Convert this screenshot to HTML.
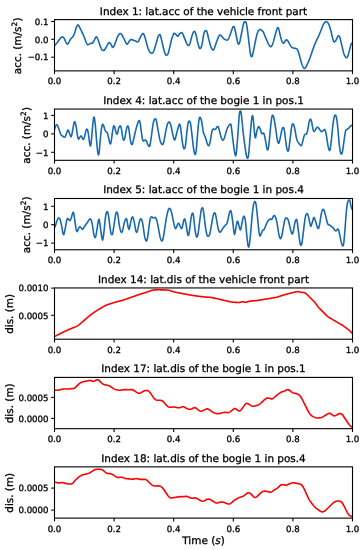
<!DOCTYPE html>
<html><head><meta charset="utf-8"><style>
html,body{margin:0;padding:0;background:#fff;}
body{width:364px;height:550px;overflow:hidden;}
svg{display:block;}
</style></head><body>
<svg width="364" height="550" viewBox="0 0 364 550">
<rect width="364" height="550" fill="#fff"/>
<g font-family="'DejaVu Sans', sans-serif" fill="#000" stroke="#000" stroke-width="0.3" text-rendering="geometricPrecision">
<clipPath id="c0"><rect x="54.5" y="19.6" width="298.0" height="51.27"/></clipPath>
<path d="M54.50,45.61 L55.00,45.13 L55.50,44.57 L56.00,43.99 L56.50,43.40 L57.00,42.80 L57.50,42.17 L58.00,41.49 L58.50,40.78 L59.00,40.06 L59.50,39.35 L60.00,38.69 L60.50,38.10 L61.00,37.61 L61.50,37.21 L62.00,36.93 L62.50,36.81 L63.00,36.98 L63.50,37.46 L64.00,38.16 L64.50,39.01 L65.00,40.08 L65.50,41.29 L66.00,42.40 L66.50,43.31 L67.00,43.96 L67.50,44.08 L68.00,43.63 L68.50,42.91 L69.00,42.07 L69.50,41.14 L70.00,40.16 L70.50,39.24 L71.00,38.50 L71.50,37.98 L72.00,37.56 L72.50,37.11 L73.00,36.49 L73.50,35.70 L74.00,34.72 L74.50,33.51 L75.00,31.86 L75.50,29.95 L76.00,28.27 L76.50,26.95 L77.00,25.93 L77.50,25.21 L78.00,24.88 L78.50,25.16 L79.00,26.06 L79.50,27.16 L80.00,28.23 L80.50,29.18 L81.00,30.11 L81.50,31.05 L82.00,32.04 L82.50,33.08 L83.00,34.18 L83.50,35.34 L84.00,36.57 L84.50,37.84 L85.00,39.15 L85.50,40.57 L86.00,42.04 L86.50,43.33 L87.00,44.22 L87.50,44.65 L88.00,44.68 L88.50,44.54 L89.00,44.35 L89.50,44.09 L90.00,43.79 L90.50,43.47 L91.00,43.17 L91.50,43.05 L92.00,43.19 L92.50,43.11 L93.00,42.52 L93.50,41.66 L94.00,40.72 L94.50,39.74 L95.00,38.70 L95.50,37.71 L96.00,36.97 L96.50,36.88 L97.00,37.44 L97.50,38.48 L98.00,39.70 L98.50,41.04 L99.00,42.46 L99.50,43.90 L100.00,45.31 L100.50,46.67 L101.00,47.94 L101.50,49.06 L102.00,49.88 L102.50,50.25 L103.00,50.36 L103.50,50.40 L104.00,50.34 L104.50,50.01 L105.00,49.32 L105.50,48.48 L106.00,47.60 L106.50,46.68 L107.00,45.74 L107.50,44.80 L108.00,43.89 L108.50,43.10 L109.00,42.59 L109.50,42.52 L110.00,42.94 L110.50,43.65 L111.00,44.46 L111.50,45.46 L112.00,46.47 L112.50,47.21 L113.00,47.38 L113.50,46.94 L114.00,46.00 L114.50,44.84 L115.00,43.59 L115.50,42.27 L116.00,40.87 L116.50,39.41 L117.00,38.02 L117.50,36.83 L118.00,35.86 L118.50,35.06 L119.00,34.36 L119.50,33.84 L120.00,33.54 L120.50,33.49 L121.00,33.71 L121.50,34.19 L122.00,34.95 L122.50,35.84 L123.00,36.77 L123.50,37.77 L124.00,38.83 L124.50,39.90 L125.00,40.98 L125.50,42.03 L126.00,43.02 L126.50,43.83 L127.00,44.22 L127.50,43.91 L128.00,43.24 L128.50,42.46 L129.00,41.60 L129.50,40.80 L130.00,40.18 L130.50,39.73 L131.00,39.53 L131.50,39.59 L132.00,39.72 L132.50,39.88 L133.00,40.05 L133.50,40.24 L134.00,40.44 L134.50,40.64 L135.00,40.84 L135.50,41.06 L136.00,41.31 L136.50,41.58 L137.00,41.83 L137.50,41.99 L138.00,41.77 L138.50,41.15 L139.00,40.26 L139.50,39.16 L140.00,37.97 L140.50,36.87 L141.00,35.93 L141.50,35.10 L142.00,34.39 L142.50,33.81 L143.00,33.51 L143.50,33.76 L144.00,34.61 L144.50,35.88 L145.00,37.44 L145.50,39.23 L146.00,41.14 L146.50,43.03 L147.00,44.80 L147.50,46.45 L148.00,47.97 L148.50,49.37 L149.00,50.62 L149.50,51.58 L150.00,52.27 L150.50,52.75 L151.00,53.09 L151.50,53.30 L152.00,53.32 L152.50,53.08 L153.00,52.51 L153.50,51.62 L154.00,50.47 L154.50,49.02 L155.00,47.30 L155.50,45.52 L156.00,43.73 L156.50,41.95 L157.00,40.16 L157.50,38.40 L158.00,36.82 L158.50,35.74 L159.00,35.05 L159.50,34.60 L160.00,34.60 L160.50,35.58 L161.00,37.47 L161.50,39.57 L162.00,41.72 L162.50,43.91 L163.00,46.11 L163.50,48.27 L164.00,50.25 L164.50,51.97 L165.00,53.43 L165.50,54.56 L166.00,55.13 L166.50,55.25 L167.00,55.08 L167.50,54.70 L168.00,53.90 L168.50,52.43 L169.00,50.45 L169.50,48.35 L170.00,46.19 L170.50,43.98 L171.00,41.77 L171.50,39.70 L172.00,38.03 L172.50,36.71 L173.00,35.46 L173.50,34.11 L174.00,33.19 L174.50,33.22 L175.00,33.68 L175.50,34.18 L176.00,34.68 L176.50,35.18 L177.00,35.68 L177.50,36.15 L178.00,36.27 L178.50,35.53 L179.00,34.55 L179.50,33.95 L180.00,33.47 L180.50,33.06 L181.00,32.75 L181.50,32.57 L182.00,32.68 L182.50,33.27 L183.00,34.40 L183.50,35.64 L184.00,36.89 L184.50,38.14 L185.00,39.39 L185.50,40.64 L186.00,41.89 L186.50,43.12 L187.00,44.16 L187.50,44.89 L188.00,45.33 L188.50,45.51 L189.00,45.31 L189.50,44.56 L190.00,43.30 L190.50,41.60 L191.00,39.54 L191.50,37.51 L192.00,35.79 L192.50,34.30 L193.00,33.02 L193.50,31.99 L194.00,31.43 L194.50,31.40 L195.00,31.84 L195.50,32.83 L196.00,34.48 L196.50,36.79 L197.00,39.36 L197.50,41.70 L198.00,43.77 L198.50,45.61 L199.00,47.19 L199.50,48.24 L200.00,48.60 L200.50,48.40 L201.00,47.67 L201.50,46.35 L202.00,44.49 L202.50,42.06 L203.00,38.62 L203.50,35.28 L204.00,33.14 L204.50,31.76 L205.00,30.92 L205.50,30.57 L206.00,30.62 L206.50,30.98 L207.00,31.98 L207.50,33.79 L208.00,35.96 L208.50,38.12 L209.00,40.12 L209.50,42.03 L210.00,43.88 L210.50,45.61 L211.00,47.08 L211.50,48.24 L212.00,49.13 L212.50,49.77 L213.00,50.10 L213.50,49.93 L214.00,49.13 L214.50,47.79 L215.00,46.35 L215.50,44.90 L216.00,43.49 L216.50,42.09 L217.00,40.70 L217.50,39.33 L218.00,38.00 L218.50,36.82 L219.00,35.89 L219.50,35.30 L220.00,35.12 L220.50,35.23 L221.00,35.56 L221.50,36.03 L222.00,36.57 L222.50,37.18 L223.00,37.83 L223.50,38.44 L224.00,38.93 L224.50,39.29 L225.00,39.55 L225.50,39.75 L226.00,39.92 L226.50,40.06 L227.00,40.11 L227.50,39.98 L228.00,39.59 L228.50,38.86 L229.00,37.81 L229.50,36.56 L230.00,35.22 L230.50,33.82 L231.00,32.31 L231.50,30.76 L232.00,29.25 L232.50,27.91 L233.00,26.94 L233.50,26.46 L234.00,26.60 L234.50,27.62 L235.00,29.58 L235.50,32.02 L236.00,34.52 L236.50,37.02 L237.00,39.52 L237.50,41.94 L238.00,43.60 L238.50,44.11 L239.00,43.80 L239.50,42.79 L240.00,40.92 L240.50,38.49 L241.00,35.99 L241.50,33.49 L242.00,30.99 L242.50,28.49 L243.00,26.00 L243.50,23.70 L244.00,22.40 L244.50,21.92 L245.00,21.69 L245.50,21.78 L246.00,22.54 L246.50,24.23 L247.00,26.86 L247.50,30.42 L248.00,34.52 L248.50,38.69 L249.00,42.85 L249.50,47.02 L250.00,51.09 L250.50,54.29 L251.00,56.04 L251.50,56.76 L252.00,56.58 L252.50,55.22 L253.00,53.00 L253.50,50.64 L254.00,48.22 L254.50,45.75 L255.00,43.24 L255.50,40.73 L256.00,38.31 L256.50,36.16 L257.00,34.33 L257.50,32.77 L258.00,31.49 L258.50,30.53 L259.00,29.88 L259.50,29.55 L260.00,29.47 L260.50,29.55 L261.00,29.77 L261.50,30.11 L262.00,30.51 L262.50,30.96 L263.00,31.56 L263.50,32.43 L264.00,33.57 L264.50,34.83 L265.00,36.12 L265.50,37.38 L266.00,38.57 L266.50,39.73 L267.00,40.88 L267.50,42.02 L268.00,43.11 L268.50,44.09 L269.00,44.94 L269.50,45.69 L270.00,46.32 L270.50,46.66 L271.00,46.63 L271.50,46.22 L272.00,45.44 L272.50,44.36 L273.00,43.01 L273.50,41.38 L274.00,39.52 L274.50,37.55 L275.00,35.57 L275.50,33.68 L276.00,31.95 L276.50,30.31 L277.00,28.78 L277.50,27.70 L278.00,27.54 L278.50,28.44 L279.00,30.07 L279.50,32.07 L280.00,34.28 L280.50,36.40 L281.00,38.25 L281.50,39.91 L282.00,41.33 L282.50,42.44 L283.00,43.09 L283.50,43.24 L284.00,42.93 L284.50,42.14 L285.00,41.17 L285.50,40.48 L286.00,40.04 L286.50,39.86 L287.00,40.06 L287.50,40.54 L288.00,41.19 L288.50,41.98 L289.00,42.89 L289.50,43.86 L290.00,44.80 L290.50,45.62 L291.00,46.39 L291.50,47.03 L292.00,47.48 L292.50,47.71 L293.00,47.85 L293.50,47.97 L294.00,48.08 L294.50,48.20 L295.00,48.33 L295.50,48.47 L296.00,48.62 L296.50,48.78 L297.00,49.01 L297.50,49.63 L298.00,50.75 L298.50,52.29 L299.00,54.06 L299.50,55.84 L300.00,57.63 L300.50,59.41 L301.00,61.20 L301.50,62.96 L302.00,64.49 L302.50,65.72 L303.00,66.77 L303.50,67.69 L304.00,68.31 L304.50,68.51 L305.00,68.27 L305.50,67.74 L306.00,66.96 L306.50,65.97 L307.00,64.92 L307.50,63.83 L308.00,62.70 L308.50,61.53 L309.00,60.33 L309.50,59.10 L310.00,57.83 L310.50,56.49 L311.00,55.04 L311.50,53.51 L312.00,51.98 L312.50,50.49 L313.00,49.08 L313.50,47.70 L314.00,46.36 L314.50,45.06 L315.00,43.83 L315.50,42.64 L316.00,41.51 L316.50,40.41 L317.00,39.36 L317.50,38.40 L318.00,37.47 L318.50,36.45 L319.00,35.26 L319.50,34.02 L320.00,32.77 L320.50,31.52 L321.00,30.27 L321.50,29.02 L322.00,27.77 L322.50,26.52 L323.00,25.28 L323.50,24.21 L324.00,23.39 L324.50,22.76 L325.00,22.26 L325.50,21.89 L326.00,21.74 L326.50,21.77 L327.00,21.95 L327.50,22.32 L328.00,22.93 L328.50,23.80 L329.00,24.92 L329.50,26.27 L330.00,27.83 L330.50,29.54 L331.00,31.37 L331.50,33.30 L332.00,35.45 L332.50,37.64 L333.00,39.56 L333.50,40.99 L334.00,41.80 L334.50,41.95 L335.00,41.60 L335.50,40.98 L336.00,40.16 L336.50,39.17 L337.00,38.06 L337.50,37.01 L338.00,36.20 L338.50,35.75 L339.00,35.78 L339.50,36.41 L340.00,37.75 L340.50,39.69 L341.00,41.82 L341.50,43.96 L342.00,46.11 L342.50,48.25 L343.00,50.38 L343.50,52.39 L344.00,53.94 L344.50,55.14 L345.00,56.17 L345.50,56.97 L346.00,57.47 L346.50,57.64 L347.00,57.46 L347.50,56.83 L348.00,55.66 L348.50,54.04 L349.00,52.25 L349.50,50.35 L350.00,48.28 L350.50,46.18 L351.00,44.46 L351.50,43.49 L352.00,43.12 L352.50,43.06" fill="none" stroke="#1769b0" stroke-width="1.6" stroke-linejoin="round" stroke-linecap="square" clip-path="url(#c0)"/>
<rect x="54.5" y="19.6" width="298.0" height="51.27" fill="none" stroke="#000" stroke-width="1.1" stroke-linejoin="miter"/>
<line x1="54.50" y1="70.87" x2="54.50" y2="74.17" stroke="#000" stroke-width="1.1"/>
<text x="54.50" y="84.27" font-size="8.625" text-anchor="middle">0.0</text>
<line x1="114.10" y1="70.87" x2="114.10" y2="74.17" stroke="#000" stroke-width="1.1"/>
<text x="114.10" y="84.27" font-size="8.625" text-anchor="middle">0.2</text>
<line x1="173.70" y1="70.87" x2="173.70" y2="74.17" stroke="#000" stroke-width="1.1"/>
<text x="173.70" y="84.27" font-size="8.625" text-anchor="middle">0.4</text>
<line x1="233.30" y1="70.87" x2="233.30" y2="74.17" stroke="#000" stroke-width="1.1"/>
<text x="233.30" y="84.27" font-size="8.625" text-anchor="middle">0.6</text>
<line x1="292.90" y1="70.87" x2="292.90" y2="74.17" stroke="#000" stroke-width="1.1"/>
<text x="292.90" y="84.27" font-size="8.625" text-anchor="middle">0.8</text>
<line x1="352.50" y1="70.87" x2="352.50" y2="74.17" stroke="#000" stroke-width="1.1"/>
<text x="352.50" y="84.27" font-size="8.625" text-anchor="middle">1.0</text>
<line x1="51.20" y1="21.5" x2="54.5" y2="21.5" stroke="#000" stroke-width="1.1"/>
<text x="48.55" y="24.78" font-size="8.625" text-anchor="end">0.1</text>
<line x1="51.20" y1="39.35" x2="54.5" y2="39.35" stroke="#000" stroke-width="1.1"/>
<text x="48.55" y="42.63" font-size="8.625" text-anchor="end">0.0</text>
<line x1="51.20" y1="57.2" x2="54.5" y2="57.2" stroke="#000" stroke-width="1.1"/>
<text x="48.55" y="60.48" font-size="8.625" text-anchor="end">−0.1</text>
<text x="203.50" y="14.80" font-size="10.45" text-anchor="middle">Index 1: lat.acc of the vehicle front part</text>
<text transform="translate(21.4,45.84) rotate(-90)" x="0" y="0" font-size="10.45" text-anchor="middle">acc. (m/s<tspan font-size="7.31" dx="0.10" dy="-4.00">2</tspan><tspan dx="0.28" dy="4.00">)</tspan></text>
<clipPath id="c1"><rect x="54.5" y="109.05000000000001" width="298.0" height="51.27"/></clipPath>
<path d="M54.50,129.39 L55.00,127.69 L55.50,126.22 L56.00,125.25 L56.50,124.79 L57.00,124.77 L57.50,125.29 L58.00,126.50 L58.50,127.91 L59.00,129.34 L59.50,130.77 L60.00,132.20 L60.50,133.60 L61.00,134.78 L61.50,135.34 L62.00,135.60 L62.50,135.96 L63.00,136.41 L63.50,136.85 L64.00,137.23 L64.50,137.34 L65.00,136.96 L65.50,136.15 L66.00,134.88 L66.50,133.35 L67.00,131.93 L67.50,130.62 L68.00,129.98 L68.50,130.61 L69.00,131.86 L69.50,133.24 L70.00,134.67 L70.50,136.06 L71.00,136.80 L71.50,135.96 L72.00,133.85 L72.50,131.03 L73.00,128.05 L73.50,125.37 L74.00,123.09 L74.50,121.66 L75.00,121.90 L75.50,123.55 L76.00,125.97 L76.50,128.97 L77.00,132.52 L77.50,135.76 L78.00,138.18 L78.50,139.24 L79.00,138.81 L79.50,137.94 L80.00,137.13 L80.50,136.42 L81.00,135.96 L81.50,136.26 L82.00,137.40 L82.50,138.46 L83.00,139.23 L83.50,139.40 L84.00,138.46 L84.50,136.75 L85.00,134.80 L85.50,132.69 L86.00,130.63 L86.50,129.24 L87.00,129.05 L87.50,129.87 L88.00,131.73 L88.50,134.57 L89.00,138.45 L89.50,142.39 L90.00,145.23 L90.50,145.98 L91.00,143.70 L91.50,139.13 L92.00,133.37 L92.50,127.36 L93.00,122.27 L93.50,118.58 L94.00,116.97 L94.50,118.29 L95.00,122.07 L95.50,127.07 L96.00,133.05 L96.50,139.61 L97.00,145.54 L97.50,150.18 L98.00,153.67 L98.50,154.99 L99.00,153.18 L99.50,148.79 L100.00,142.71 L100.50,137.00 L101.00,132.40 L101.50,128.68 L102.00,125.87 L102.50,124.38 L103.00,124.44 L103.50,125.33 L104.00,126.83 L104.50,128.59 L105.00,130.02 L105.50,131.00 L106.00,131.74 L106.50,132.17 L107.00,132.29 L107.50,133.39 L108.00,135.37 L108.50,137.45 L109.00,139.54 L109.50,141.62 L110.00,143.53 L110.50,143.98 L111.00,142.44 L111.50,139.45 L112.00,135.57 L112.50,131.91 L113.00,128.81 L113.50,126.53 L114.00,125.78 L114.50,126.51 L115.00,128.03 L115.50,130.09 L116.00,132.23 L116.50,133.68 L117.00,134.17 L117.50,133.51 L118.00,131.42 L118.50,128.88 L119.00,127.25 L119.50,126.29 L120.00,125.85 L120.50,126.06 L121.00,127.15 L121.50,129.44 L122.00,132.92 L122.50,136.18 L123.00,138.53 L123.50,139.99 L124.00,140.20 L124.50,139.16 L125.00,137.17 L125.50,134.38 L126.00,131.36 L126.50,128.92 L127.00,127.15 L127.50,126.11 L128.00,126.04 L128.50,127.30 L129.00,129.84 L129.50,133.58 L130.00,137.60 L130.50,140.71 L131.00,143.03 L131.50,144.37 L132.00,144.68 L132.50,143.78 L133.00,141.88 L133.50,139.80 L134.00,137.65 L134.50,135.46 L135.00,133.26 L135.50,131.10 L136.00,129.07 L136.50,127.21 L137.00,125.43 L137.50,123.75 L138.00,122.37 L138.50,121.26 L139.00,120.46 L139.50,120.56 L140.00,122.21 L140.50,125.45 L141.00,129.31 L141.50,133.01 L142.00,136.52 L142.50,139.35 L143.00,140.76 L143.50,140.97 L144.00,140.74 L144.50,140.37 L145.00,140.06 L145.50,140.04 L146.00,140.35 L146.50,141.14 L147.00,142.43 L147.50,143.82 L148.00,144.91 L148.50,145.74 L149.00,146.33 L149.50,146.34 L150.00,145.07 L150.50,142.34 L151.00,138.99 L151.50,135.39 L152.00,131.61 L152.50,127.89 L153.00,124.62 L153.50,122.11 L154.00,120.34 L154.50,119.34 L155.00,118.96 L155.50,118.86 L156.00,119.32 L156.50,121.24 L157.00,124.06 L157.50,127.00 L158.00,129.87 L158.50,132.71 L159.00,135.50 L159.50,138.12 L160.00,140.15 L160.50,141.66 L161.00,142.91 L161.50,143.88 L162.00,144.43 L162.50,144.52 L163.00,144.09 L163.50,142.96 L164.00,140.97 L164.50,138.28 L165.00,135.33 L165.50,132.53 L166.00,130.07 L166.50,127.78 L167.00,125.73 L167.50,124.05 L168.00,122.92 L168.50,122.30 L169.00,122.06 L169.50,122.20 L170.00,122.92 L170.50,124.29 L171.00,126.08 L171.50,128.23 L172.00,130.70 L172.50,133.23 L173.00,135.46 L173.50,137.32 L174.00,138.87 L174.50,139.88 L175.00,139.72 L175.50,138.11 L176.00,136.00 L176.50,133.95 L177.00,132.04 L177.50,130.17 L178.00,128.32 L178.50,126.56 L179.00,125.08 L179.50,124.10 L180.00,124.75 L180.50,127.20 L181.00,130.96 L181.50,135.24 L182.00,139.22 L182.50,142.78 L183.00,145.87 L183.50,147.99 L184.00,148.74 L184.50,148.61 L185.00,147.68 L185.50,145.32 L186.00,141.10 L186.50,135.91 L187.00,131.12 L187.50,126.93 L188.00,123.55 L188.50,121.59 L189.00,121.08 L189.50,121.29 L190.00,121.83 L190.50,123.48 L191.00,126.74 L191.50,130.75 L192.00,135.10 L192.50,139.71 L193.00,144.26 L193.50,148.12 L194.00,151.00 L194.50,153.26 L195.00,154.55 L195.50,154.27 L196.00,151.92 L196.50,147.44 L197.00,141.43 L197.50,135.05 L198.00,129.17 L198.50,123.87 L199.00,119.73 L199.50,117.60 L200.00,117.27 L200.50,117.84 L201.00,118.92 L201.50,120.68 L202.00,123.46 L202.50,126.98 L203.00,130.44 L203.50,133.03 L204.00,134.31 L204.50,135.21 L205.00,136.36 L205.50,137.63 L206.00,139.15 L206.50,141.01 L207.00,142.83 L207.50,144.22 L208.00,145.20 L208.50,145.82 L209.00,145.75 L209.50,144.54 L210.00,142.35 L210.50,139.76 L211.00,136.97 L211.50,133.94 L212.00,131.24 L212.50,129.59 L213.00,129.01 L213.50,129.03 L214.00,129.33 L214.50,129.52 L215.00,129.41 L215.50,129.13 L216.00,128.61 L216.50,127.75 L217.00,126.92 L217.50,126.43 L218.00,126.50 L218.50,127.43 L219.00,129.00 L219.50,130.88 L220.00,132.94 L220.50,135.05 L221.00,136.89 L221.50,138.25 L222.00,139.26 L222.50,139.94 L223.00,140.13 L223.50,139.68 L224.00,138.76 L224.50,137.41 L225.00,135.78 L225.50,134.12 L226.00,132.45 L226.50,130.78 L227.00,129.15 L227.50,127.78 L228.00,126.86 L228.50,126.13 L229.00,125.40 L229.50,124.79 L230.00,124.29 L230.50,123.92 L231.00,124.70 L231.50,128.07 L232.00,132.18 L232.50,136.35 L233.00,140.51 L233.50,144.66 L234.00,148.52 L234.50,151.50 L235.00,153.98 L235.50,155.81 L236.00,155.25 L236.50,151.38 L237.00,145.56 L237.50,139.08 L238.00,132.38 L238.50,125.37 L239.00,117.94 L239.50,112.88 L240.00,111.35 L240.50,111.01 L241.00,111.86 L241.50,115.78 L242.00,120.70 L242.50,125.75 L243.00,130.83 L243.50,135.38 L244.00,139.22 L244.50,142.84 L245.00,146.56 L245.50,150.30 L246.00,153.77 L246.50,155.93 L247.00,157.38 L247.50,158.23 L248.00,157.79 L248.50,155.31 L249.00,150.79 L249.50,144.73 L250.00,137.95 L250.50,131.46 L251.00,125.65 L251.50,120.50 L252.00,116.69 L252.50,115.60 L253.00,117.06 L253.50,121.21 L254.00,127.46 L254.50,132.95 L255.00,137.03 L255.50,137.85 L256.00,135.79 L256.50,133.09 L257.00,130.91 L257.50,128.98 L258.00,127.44 L258.50,126.57 L259.00,126.60 L259.50,127.50 L260.00,128.72 L260.50,130.09 L261.00,131.64 L261.50,133.12 L262.00,133.85 L262.50,133.52 L263.00,133.15 L263.50,133.14 L264.00,133.68 L264.50,135.32 L265.00,137.78 L265.50,140.54 L266.00,143.43 L266.50,146.37 L267.00,148.84 L267.50,150.02 L268.00,149.57 L268.50,147.35 L269.00,143.57 L269.50,138.66 L270.00,133.16 L270.50,127.85 L271.00,123.16 L271.50,119.18 L272.00,116.34 L272.50,115.18 L273.00,115.44 L273.50,116.54 L274.00,118.35 L274.50,121.03 L275.00,124.06 L275.50,127.27 L276.00,130.70 L276.50,134.38 L277.00,137.94 L277.50,140.79 L278.00,142.60 L278.50,143.40 L279.00,143.03 L279.50,141.32 L280.00,139.06 L280.50,136.68 L281.00,134.20 L281.50,131.69 L282.00,129.43 L282.50,128.12 L283.00,127.57 L283.50,127.48 L284.00,128.46 L284.50,131.16 L285.00,135.26 L285.50,139.53 L286.00,143.23 L286.50,146.57 L287.00,149.32 L287.50,150.80 L288.00,151.23 L288.50,150.75 L289.00,148.16 L289.50,144.15 L290.00,139.98 L290.50,135.82 L291.00,131.65 L291.50,127.65 L292.00,124.99 L292.50,123.92 L293.00,123.73 L293.50,124.22 L294.00,125.61 L294.50,127.64 L295.00,129.99 L295.50,132.74 L296.00,135.85 L296.50,138.35 L297.00,139.93 L297.50,141.04 L298.00,141.96 L298.50,142.81 L299.00,143.57 L299.50,144.20 L300.00,144.76 L300.50,145.31 L301.00,145.70 L301.50,145.48 L302.00,144.25 L302.50,142.36 L303.00,140.32 L303.50,138.15 L304.00,136.25 L304.50,135.04 L305.00,134.40 L305.50,134.11 L306.00,134.24 L306.50,134.02 L307.00,132.88 L307.50,130.99 L308.00,128.53 L308.50,125.51 L309.00,122.72 L309.50,120.71 L310.00,119.50 L310.50,119.14 L311.00,119.74 L311.50,121.31 L312.00,123.81 L312.50,126.60 L313.00,128.94 L313.50,130.82 L314.00,131.51 L314.50,131.09 L315.00,130.37 L315.50,129.56 L316.00,128.71 L316.50,127.92 L317.00,127.38 L317.50,127.22 L318.00,127.43 L318.50,127.89 L319.00,128.50 L319.50,129.23 L320.00,129.99 L320.50,130.69 L321.00,131.26 L321.50,131.59 L322.00,131.56 L322.50,131.23 L323.00,130.78 L323.50,130.17 L324.00,129.62 L324.50,129.44 L325.00,129.89 L325.50,131.16 L326.00,133.32 L326.50,136.09 L327.00,139.31 L327.50,142.72 L328.00,145.70 L328.50,147.96 L329.00,149.62 L329.50,150.55 L330.00,149.92 L330.50,147.20 L331.00,143.25 L331.50,138.69 L332.00,133.75 L332.50,128.69 L333.00,124.14 L333.50,120.51 L334.00,117.77 L334.50,115.96 L335.00,115.13 L335.50,115.07 L336.00,115.83 L336.50,117.71 L337.00,120.83 L337.50,124.99 L338.00,130.05 L338.50,135.99 L339.00,141.74 L339.50,146.42 L340.00,150.04 L340.50,152.57 L341.00,153.85 L341.50,153.96 L342.00,153.18 L342.50,151.48 L343.00,148.45 L343.50,144.72 L344.00,140.95 L344.50,137.34 L345.00,133.99 L345.50,131.44 L346.00,130.13 L346.50,129.62 L347.00,129.35 L347.50,129.12 L348.00,128.79 L348.50,128.40 L349.00,127.95 L349.50,127.35 L350.00,126.64 L350.50,126.08 L351.00,125.71 L351.50,125.49 L352.00,125.39 L352.50,125.38" fill="none" stroke="#1769b0" stroke-width="1.6" stroke-linejoin="round" stroke-linecap="square" clip-path="url(#c1)"/>
<rect x="54.5" y="109.05000000000001" width="298.0" height="51.27" fill="none" stroke="#000" stroke-width="1.1" stroke-linejoin="miter"/>
<line x1="54.50" y1="160.32000000000002" x2="54.50" y2="163.62" stroke="#000" stroke-width="1.1"/>
<text x="54.50" y="173.72" font-size="8.625" text-anchor="middle">0.0</text>
<line x1="114.10" y1="160.32000000000002" x2="114.10" y2="163.62" stroke="#000" stroke-width="1.1"/>
<text x="114.10" y="173.72" font-size="8.625" text-anchor="middle">0.2</text>
<line x1="173.70" y1="160.32000000000002" x2="173.70" y2="163.62" stroke="#000" stroke-width="1.1"/>
<text x="173.70" y="173.72" font-size="8.625" text-anchor="middle">0.4</text>
<line x1="233.30" y1="160.32000000000002" x2="233.30" y2="163.62" stroke="#000" stroke-width="1.1"/>
<text x="233.30" y="173.72" font-size="8.625" text-anchor="middle">0.6</text>
<line x1="292.90" y1="160.32000000000002" x2="292.90" y2="163.62" stroke="#000" stroke-width="1.1"/>
<text x="292.90" y="173.72" font-size="8.625" text-anchor="middle">0.8</text>
<line x1="352.50" y1="160.32000000000002" x2="352.50" y2="163.62" stroke="#000" stroke-width="1.1"/>
<text x="352.50" y="173.72" font-size="8.625" text-anchor="middle">1.0</text>
<line x1="51.20" y1="115.4" x2="54.5" y2="115.4" stroke="#000" stroke-width="1.1"/>
<text x="48.55" y="118.68" font-size="8.625" text-anchor="end">1</text>
<line x1="51.20" y1="133.9" x2="54.5" y2="133.9" stroke="#000" stroke-width="1.1"/>
<text x="48.55" y="137.18" font-size="8.625" text-anchor="end">0</text>
<line x1="51.20" y1="152.3" x2="54.5" y2="152.3" stroke="#000" stroke-width="1.1"/>
<text x="48.55" y="155.58" font-size="8.625" text-anchor="end">−1</text>
<text x="203.50" y="103.80" font-size="10.45" text-anchor="middle">Index 4: lat.acc of the bogie 1 in pos.1</text>
<text transform="translate(30.0,135.28) rotate(-90)" x="0" y="0" font-size="10.45" text-anchor="middle">acc. (m/s<tspan font-size="7.31" dx="0.10" dy="-4.00">2</tspan><tspan dx="0.28" dy="4.00">)</tspan></text>
<clipPath id="c2"><rect x="54.5" y="198.5" width="298.0" height="51.27"/></clipPath>
<path d="M54.50,227.51 L55.00,226.77 L55.50,225.44 L56.00,223.74 L56.50,222.10 L57.00,220.72 L57.50,219.51 L58.00,218.54 L58.50,218.02 L59.00,217.93 L59.50,218.31 L60.00,219.28 L60.50,220.82 L61.00,222.83 L61.50,225.16 L62.00,227.95 L62.50,230.97 L63.00,233.38 L63.50,234.57 L64.00,234.09 L64.50,232.20 L65.00,229.76 L65.50,227.02 L66.00,224.02 L66.50,221.25 L67.00,219.30 L67.50,218.42 L68.00,218.56 L68.50,219.24 L69.00,219.92 L69.50,220.41 L70.00,220.57 L70.50,219.87 L71.00,218.52 L71.50,216.95 L72.00,215.31 L72.50,213.63 L73.00,212.31 L73.50,212.48 L74.00,214.90 L74.50,218.33 L75.00,221.81 L75.50,225.21 L76.00,228.44 L76.50,230.88 L77.00,231.67 L77.50,231.16 L78.00,229.93 L78.50,228.64 L79.00,227.63 L79.50,226.85 L80.00,226.79 L80.50,227.21 L81.00,227.75 L81.50,228.35 L82.00,228.97 L82.50,229.32 L83.00,228.96 L83.50,228.16 L84.00,227.31 L84.50,226.45 L85.00,225.70 L85.50,225.02 L86.00,224.35 L86.50,223.69 L87.00,223.02 L87.50,222.34 L88.00,221.53 L88.50,220.67 L89.00,219.92 L89.50,219.33 L90.00,218.91 L90.50,218.98 L91.00,219.68 L91.50,221.02 L92.00,223.08 L92.50,225.71 L93.00,229.00 L93.50,232.40 L94.00,235.11 L94.50,236.89 L95.00,237.64 L95.50,237.22 L96.00,235.46 L96.50,232.48 L97.00,229.12 L97.50,225.82 L98.00,222.72 L98.50,220.05 L99.00,219.22 L99.50,221.05 L100.00,224.55 L100.50,228.37 L101.00,231.97 L101.50,235.36 L102.00,238.45 L102.50,240.14 L103.00,238.88 L103.50,235.60 L104.00,231.38 L104.50,226.55 L105.00,221.40 L105.50,217.02 L106.00,214.10 L106.50,212.39 L107.00,211.57 L107.50,211.77 L108.00,213.32 L108.50,215.91 L109.00,219.15 L109.50,223.05 L110.00,227.38 L110.50,231.01 L111.00,233.27 L111.50,234.38 L112.00,234.72 L112.50,234.05 L113.00,231.65 L113.50,228.40 L114.00,225.06 L114.50,221.73 L115.00,218.40 L115.50,215.24 L116.00,213.18 L116.50,212.25 L117.00,212.11 L117.50,213.12 L118.00,215.54 L118.50,219.24 L119.00,223.07 L119.50,226.12 L120.00,228.66 L120.50,230.69 L121.00,232.01 L121.50,232.46 L122.00,231.99 L122.50,230.78 L123.00,228.89 L123.50,226.38 L124.00,223.86 L124.50,221.96 L125.00,220.54 L125.50,219.41 L126.00,218.68 L126.50,218.82 L127.00,220.43 L127.50,223.49 L128.00,226.34 L128.50,228.52 L129.00,229.51 L129.50,228.22 L130.00,225.72 L130.50,223.17 L131.00,220.93 L131.50,218.89 L132.00,217.34 L132.50,216.90 L133.00,217.52 L133.50,218.91 L134.00,220.88 L134.50,223.38 L135.00,226.37 L135.50,229.20 L136.00,231.35 L136.50,232.41 L137.00,231.96 L137.50,230.46 L138.00,228.38 L138.50,225.92 L139.00,223.37 L139.50,221.27 L140.00,219.84 L140.50,219.03 L141.00,218.86 L141.50,219.43 L142.00,220.65 L142.50,222.52 L143.00,225.10 L143.50,228.61 L144.00,232.53 L144.50,235.66 L145.00,237.93 L145.50,239.63 L146.00,240.80 L146.50,241.09 L147.00,240.16 L147.50,237.97 L148.00,234.82 L148.50,230.83 L149.00,226.53 L149.50,222.88 L150.00,220.01 L150.50,218.11 L151.00,217.17 L151.50,216.84 L152.00,217.01 L152.50,217.47 L153.00,217.82 L153.50,217.82 L154.00,217.65 L154.50,217.50 L155.00,217.53 L155.50,217.80 L156.00,218.38 L156.50,219.45 L157.00,221.13 L157.50,223.31 L158.00,225.78 L158.50,228.42 L159.00,231.32 L159.50,234.26 L160.00,236.76 L160.50,238.51 L161.00,239.79 L161.50,240.66 L162.00,240.91 L162.50,240.43 L163.00,239.09 L163.50,236.58 L164.00,233.33 L164.50,229.99 L165.00,226.66 L165.50,223.33 L166.00,220.04 L166.50,217.19 L167.00,214.85 L167.50,212.65 L168.00,210.70 L168.50,209.22 L169.00,208.45 L169.50,208.37 L170.00,208.70 L170.50,209.34 L171.00,210.59 L171.50,212.42 L172.00,214.57 L172.50,216.94 L173.00,219.45 L173.50,221.93 L174.00,224.22 L174.50,226.24 L175.00,227.86 L175.50,228.58 L176.00,228.28 L176.50,227.19 L177.00,225.87 L177.50,224.72 L178.00,223.70 L178.50,223.21 L179.00,223.59 L179.50,224.57 L180.00,225.70 L180.50,227.01 L181.00,228.16 L181.50,228.56 L182.00,227.93 L182.50,226.37 L183.00,223.78 L183.50,221.28 L184.00,219.63 L184.50,218.89 L185.00,219.51 L185.50,221.34 L186.00,223.93 L186.50,227.09 L187.00,230.53 L187.50,233.47 L188.00,235.38 L188.50,235.53 L189.00,233.65 L189.50,230.52 L190.00,226.75 L190.50,222.46 L191.00,218.45 L191.50,215.60 L192.00,213.96 L192.50,213.19 L193.00,213.56 L193.50,215.63 L194.00,219.88 L194.50,225.23 L195.00,229.52 L195.50,232.79 L196.00,235.24 L196.50,236.74 L197.00,237.06 L197.50,236.06 L198.00,234.01 L198.50,230.91 L199.00,226.92 L199.50,222.72 L200.00,218.63 L200.50,214.73 L201.00,211.25 L201.50,208.94 L202.00,208.10 L202.50,207.82 L203.00,208.54 L203.50,211.38 L204.00,215.13 L204.50,219.23 L205.00,223.45 L205.50,227.34 L206.00,230.56 L206.50,233.07 L207.00,234.83 L207.50,235.85 L208.00,236.29 L208.50,236.29 L209.00,235.76 L209.50,234.71 L210.00,233.07 L210.50,230.56 L211.00,227.68 L211.50,224.76 L212.00,221.84 L212.50,218.93 L213.00,216.20 L213.50,214.45 L214.00,213.48 L214.50,212.83 L215.00,212.92 L215.50,214.37 L216.00,216.68 L216.50,219.34 L217.00,222.21 L217.50,225.17 L218.00,227.86 L218.50,229.86 L219.00,231.17 L219.50,231.94 L220.00,232.22 L220.50,231.91 L221.00,231.31 L221.50,230.60 L222.00,229.78 L222.50,228.93 L223.00,228.16 L223.50,227.47 L224.00,226.82 L224.50,226.21 L225.00,225.63 L225.50,225.09 L226.00,224.69 L226.50,224.25 L227.00,223.29 L227.50,221.57 L228.00,219.45 L228.50,216.95 L229.00,214.43 L229.50,212.50 L230.00,211.25 L230.50,210.57 L231.00,210.97 L231.50,213.18 L232.00,216.41 L232.50,220.12 L233.00,224.21 L233.50,228.45 L234.00,232.27 L234.50,234.53 L235.00,233.28 L235.50,230.34 L236.00,227.36 L236.50,224.54 L237.00,222.14 L237.50,221.18 L238.00,222.08 L238.50,223.75 L239.00,225.89 L239.50,227.96 L240.00,229.40 L240.50,229.83 L241.00,228.50 L241.50,225.64 L242.00,222.60 L242.50,220.20 L243.00,218.12 L243.50,216.57 L244.00,216.19 L244.50,216.72 L245.00,218.37 L245.50,221.81 L246.00,226.98 L246.50,232.58 L247.00,237.54 L247.50,241.97 L248.00,245.61 L248.50,247.12 L249.00,246.33 L249.50,243.65 L250.00,239.24 L250.50,234.24 L251.00,228.81 L251.50,222.95 L252.00,217.14 L252.50,212.03 L253.00,207.90 L253.50,204.75 L254.00,202.78 L254.50,201.79 L255.00,201.45 L255.50,202.04 L256.00,204.14 L256.50,207.74 L257.00,212.43 L257.50,217.44 L258.00,222.42 L258.50,227.23 L259.00,231.67 L259.50,235.01 L260.00,236.07 L260.50,235.50 L261.00,234.29 L261.50,233.02 L262.00,231.91 L262.50,230.88 L263.00,230.03 L263.50,229.79 L264.00,229.63 L264.50,228.66 L265.00,227.43 L265.50,226.18 L266.00,224.93 L266.50,223.69 L267.00,222.54 L267.50,221.69 L268.00,221.00 L268.50,220.35 L269.00,219.80 L269.50,219.36 L270.00,219.09 L270.50,218.97 L271.00,219.21 L271.50,219.52 L272.00,219.11 L272.50,217.99 L273.00,216.87 L273.50,216.08 L274.00,215.56 L274.50,215.47 L275.00,216.06 L275.50,217.20 L276.00,218.71 L276.50,220.59 L277.00,222.89 L277.50,225.71 L278.00,229.13 L278.50,232.38 L279.00,234.92 L279.50,236.86 L280.00,238.22 L280.50,238.76 L281.00,238.27 L281.50,236.88 L282.00,234.83 L282.50,232.18 L283.00,229.24 L283.50,226.35 L284.00,223.64 L284.50,221.20 L285.00,219.27 L285.50,218.26 L286.00,217.92 L286.50,217.94 L287.00,218.24 L287.50,218.79 L288.00,219.55 L288.50,220.97 L289.00,222.98 L289.50,225.06 L290.00,227.14 L290.50,229.23 L291.00,231.27 L291.50,232.98 L292.00,233.91 L292.50,233.89 L293.00,232.65 L293.50,230.53 L294.00,227.77 L294.50,224.74 L295.00,222.29 L295.50,220.65 L296.00,219.68 L296.50,219.44 L297.00,220.58 L297.50,223.72 L298.00,227.86 L298.50,232.05 L299.00,235.96 L299.50,239.68 L300.00,242.95 L300.50,244.84 L301.00,245.35 L301.50,244.75 L302.00,242.80 L302.50,239.22 L303.00,235.10 L303.50,230.94 L304.00,226.77 L304.50,222.62 L305.00,218.78 L305.50,216.33 L306.00,214.94 L306.50,213.99 L307.00,213.63 L307.50,214.00 L308.00,215.02 L308.50,216.62 L309.00,218.88 L309.50,221.49 L310.00,223.85 L310.50,225.83 L311.00,226.23 L311.50,224.83 L312.00,223.17 L312.50,221.50 L313.00,219.84 L313.50,218.25 L314.00,217.40 L314.50,218.01 L315.00,219.47 L315.50,221.13 L316.00,222.80 L316.50,224.46 L317.00,226.12 L317.50,227.67 L318.00,228.50 L318.50,228.35 L319.00,227.14 L319.50,224.96 L320.00,222.12 L320.50,218.73 L321.00,215.43 L321.50,212.84 L322.00,210.95 L322.50,209.75 L323.00,209.24 L323.50,209.44 L324.00,210.24 L324.50,211.45 L325.00,213.26 L325.50,215.32 L326.00,217.40 L326.50,219.49 L327.00,221.56 L327.50,223.47 L328.00,224.44 L328.50,224.72 L329.00,224.88 L329.50,225.01 L330.00,225.31 L330.50,225.71 L331.00,226.13 L331.50,226.55 L332.00,226.96 L332.50,227.38 L333.00,227.80 L333.50,228.23 L334.00,228.86 L334.50,229.76 L335.00,230.49 L335.50,230.82 L336.00,230.83 L336.50,230.48 L337.00,229.83 L337.50,229.31 L338.00,229.10 L338.50,229.70 L339.00,231.45 L339.50,233.72 L340.00,236.14 L340.50,238.66 L341.00,241.13 L341.50,243.20 L342.00,244.58 L342.50,245.59 L343.00,245.98 L343.50,244.64 L344.00,240.85 L344.50,235.40 L345.00,229.18 L345.50,222.44 L346.00,215.80 L346.50,210.15 L347.00,205.87 L347.50,203.00 L348.00,201.28 L348.50,200.35 L349.00,199.93 L349.50,200.04 L350.00,201.26 L350.50,203.96 L351.00,206.19 L351.50,207.85 L352.00,209.05 L352.50,209.49" fill="none" stroke="#1769b0" stroke-width="1.6" stroke-linejoin="round" stroke-linecap="square" clip-path="url(#c2)"/>
<rect x="54.5" y="198.5" width="298.0" height="51.27" fill="none" stroke="#000" stroke-width="1.1" stroke-linejoin="miter"/>
<line x1="54.50" y1="249.77" x2="54.50" y2="253.07" stroke="#000" stroke-width="1.1"/>
<text x="54.50" y="263.17" font-size="8.625" text-anchor="middle">0.0</text>
<line x1="114.10" y1="249.77" x2="114.10" y2="253.07" stroke="#000" stroke-width="1.1"/>
<text x="114.10" y="263.17" font-size="8.625" text-anchor="middle">0.2</text>
<line x1="173.70" y1="249.77" x2="173.70" y2="253.07" stroke="#000" stroke-width="1.1"/>
<text x="173.70" y="263.17" font-size="8.625" text-anchor="middle">0.4</text>
<line x1="233.30" y1="249.77" x2="233.30" y2="253.07" stroke="#000" stroke-width="1.1"/>
<text x="233.30" y="263.17" font-size="8.625" text-anchor="middle">0.6</text>
<line x1="292.90" y1="249.77" x2="292.90" y2="253.07" stroke="#000" stroke-width="1.1"/>
<text x="292.90" y="263.17" font-size="8.625" text-anchor="middle">0.8</text>
<line x1="352.50" y1="249.77" x2="352.50" y2="253.07" stroke="#000" stroke-width="1.1"/>
<text x="352.50" y="263.17" font-size="8.625" text-anchor="middle">1.0</text>
<line x1="51.20" y1="206.3" x2="54.5" y2="206.3" stroke="#000" stroke-width="1.1"/>
<text x="48.55" y="209.58" font-size="8.625" text-anchor="end">1</text>
<line x1="51.20" y1="224.7" x2="54.5" y2="224.7" stroke="#000" stroke-width="1.1"/>
<text x="48.55" y="227.98" font-size="8.625" text-anchor="end">0</text>
<line x1="51.20" y1="243.1" x2="54.5" y2="243.1" stroke="#000" stroke-width="1.1"/>
<text x="48.55" y="246.38" font-size="8.625" text-anchor="end">−1</text>
<text x="203.50" y="193.40" font-size="10.45" text-anchor="middle">Index 5: lat.acc of the bogie 1 in pos.4</text>
<text transform="translate(30.0,224.73) rotate(-90)" x="0" y="0" font-size="10.45" text-anchor="middle">acc. (m/s<tspan font-size="7.31" dx="0.10" dy="-4.00">2</tspan><tspan dx="0.28" dy="4.00">)</tspan></text>
<clipPath id="c3"><rect x="54.5" y="287.95000000000005" width="298.0" height="51.27"/></clipPath>
<path d="M54.50,336.46 L55.00,336.30 L55.50,336.07 L56.00,335.82 L56.50,335.57 L57.00,335.32 L57.50,335.07 L58.00,334.82 L58.50,334.57 L59.00,334.32 L59.50,334.07 L60.00,333.82 L60.50,333.57 L61.00,333.32 L61.50,333.07 L62.00,332.82 L62.50,332.57 L63.00,332.32 L63.50,332.07 L64.00,331.82 L64.50,331.57 L65.00,331.33 L65.50,331.08 L66.00,330.84 L66.50,330.61 L67.00,330.38 L67.50,330.16 L68.00,329.94 L68.50,329.72 L69.00,329.50 L69.50,329.29 L70.00,329.07 L70.50,328.85 L71.00,328.64 L71.50,328.44 L72.00,328.24 L72.50,328.04 L73.00,327.85 L73.50,327.66 L74.00,327.47 L74.50,327.28 L75.00,327.07 L75.50,326.86 L76.00,326.63 L76.50,326.39 L77.00,326.12 L77.50,325.83 L78.00,325.51 L78.50,325.16 L79.00,324.79 L79.50,324.40 L80.00,323.99 L80.50,323.56 L81.00,323.13 L81.50,322.70 L82.00,322.26 L82.50,321.83 L83.00,321.40 L83.50,320.96 L84.00,320.53 L84.50,320.10 L85.00,319.66 L85.50,319.23 L86.00,318.80 L86.50,318.36 L87.00,317.93 L87.50,317.50 L88.00,317.07 L88.50,316.63 L89.00,316.21 L89.50,315.79 L90.00,315.37 L90.50,314.97 L91.00,314.57 L91.50,314.19 L92.00,313.82 L92.50,313.45 L93.00,313.10 L93.50,312.75 L94.00,312.42 L94.50,312.09 L95.00,311.76 L95.50,311.44 L96.00,311.12 L96.50,310.81 L97.00,310.50 L97.50,310.19 L98.00,309.87 L98.50,309.56 L99.00,309.25 L99.50,308.95 L100.00,308.64 L100.50,308.34 L101.00,308.04 L101.50,307.74 L102.00,307.44 L102.50,307.15 L103.00,306.86 L103.50,306.58 L104.00,306.31 L104.50,306.05 L105.00,305.79 L105.50,305.55 L106.00,305.32 L106.50,305.11 L107.00,304.91 L107.50,304.71 L108.00,304.53 L108.50,304.36 L109.00,304.18 L109.50,304.01 L110.00,303.85 L110.50,303.69 L111.00,303.53 L111.50,303.37 L112.00,303.21 L112.50,303.06 L113.00,302.91 L113.50,302.75 L114.00,302.60 L114.50,302.45 L115.00,302.30 L115.50,302.15 L116.00,302.01 L116.50,301.86 L117.00,301.72 L117.50,301.58 L118.00,301.45 L118.50,301.33 L119.00,301.22 L119.50,301.11 L120.00,301.00 L120.50,300.89 L121.00,300.77 L121.50,300.64 L122.00,300.49 L122.50,300.34 L123.00,300.17 L123.50,300.00 L124.00,299.82 L124.50,299.65 L125.00,299.47 L125.50,299.30 L126.00,299.12 L126.50,298.95 L127.00,298.77 L127.50,298.60 L128.00,298.42 L128.50,298.25 L129.00,298.07 L129.50,297.90 L130.00,297.72 L130.50,297.55 L131.00,297.37 L131.50,297.20 L132.00,297.02 L132.50,296.85 L133.00,296.67 L133.50,296.50 L134.00,296.32 L134.50,296.15 L135.00,295.97 L135.50,295.80 L136.00,295.62 L136.50,295.45 L137.00,295.27 L137.50,295.10 L138.00,294.92 L138.50,294.75 L139.00,294.58 L139.50,294.41 L140.00,294.24 L140.50,294.08 L141.00,293.93 L141.50,293.79 L142.00,293.64 L142.50,293.50 L143.00,293.36 L143.50,293.21 L144.00,293.06 L144.50,292.91 L145.00,292.76 L145.50,292.60 L146.00,292.44 L146.50,292.27 L147.00,292.10 L147.50,291.93 L148.00,291.76 L148.50,291.58 L149.00,291.38 L149.50,291.17 L150.00,290.97 L150.50,290.79 L151.00,290.62 L151.50,290.48 L152.00,290.35 L152.50,290.23 L153.00,290.13 L153.50,290.04 L154.00,289.97 L154.50,289.92 L155.00,289.88 L155.50,289.85 L156.00,289.84 L156.50,289.83 L157.00,289.82 L157.50,289.82 L158.00,289.82 L158.50,289.82 L159.00,289.82 L159.50,289.82 L160.00,289.83 L160.50,289.84 L161.00,289.85 L161.50,289.85 L162.00,289.86 L162.50,289.87 L163.00,289.87 L163.50,289.88 L164.00,289.89 L164.50,289.90 L165.00,289.92 L165.50,289.94 L166.00,289.96 L166.50,290.00 L167.00,290.04 L167.50,290.09 L168.00,290.15 L168.50,290.24 L169.00,290.34 L169.50,290.46 L170.00,290.60 L170.50,290.75 L171.00,290.91 L171.50,291.08 L172.00,291.25 L172.50,291.41 L173.00,291.57 L173.50,291.72 L174.00,291.86 L174.50,291.98 L175.00,292.10 L175.50,292.20 L176.00,292.31 L176.50,292.41 L177.00,292.51 L177.50,292.62 L178.00,292.72 L178.50,292.82 L179.00,292.92 L179.50,293.02 L180.00,293.12 L180.50,293.22 L181.00,293.32 L181.50,293.41 L182.00,293.51 L182.50,293.60 L183.00,293.70 L183.50,293.79 L184.00,293.88 L184.50,293.98 L185.00,294.07 L185.50,294.16 L186.00,294.25 L186.50,294.35 L187.00,294.44 L187.50,294.53 L188.00,294.62 L188.50,294.71 L189.00,294.80 L189.50,294.88 L190.00,294.97 L190.50,295.06 L191.00,295.14 L191.50,295.23 L192.00,295.31 L192.50,295.39 L193.00,295.47 L193.50,295.54 L194.00,295.62 L194.50,295.69 L195.00,295.77 L195.50,295.84 L196.00,295.91 L196.50,295.97 L197.00,296.04 L197.50,296.10 L198.00,296.17 L198.50,296.23 L199.00,296.29 L199.50,296.35 L200.00,296.41 L200.50,296.47 L201.00,296.53 L201.50,296.59 L202.00,296.65 L202.50,296.70 L203.00,296.76 L203.50,296.82 L204.00,296.88 L204.50,296.94 L205.00,296.99 L205.50,297.04 L206.00,297.09 L206.50,297.13 L207.00,297.16 L207.50,297.19 L208.00,297.22 L208.50,297.25 L209.00,297.28 L209.50,297.31 L210.00,297.35 L210.50,297.40 L211.00,297.45 L211.50,297.52 L212.00,297.59 L212.50,297.68 L213.00,297.78 L213.50,297.89 L214.00,298.00 L214.50,298.12 L215.00,298.24 L215.50,298.35 L216.00,298.47 L216.50,298.59 L217.00,298.70 L217.50,298.82 L218.00,298.94 L218.50,299.05 L219.00,299.17 L219.50,299.29 L220.00,299.40 L220.50,299.52 L221.00,299.64 L221.50,299.75 L222.00,299.87 L222.50,299.99 L223.00,300.10 L223.50,300.22 L224.00,300.34 L224.50,300.45 L225.00,300.57 L225.50,300.69 L226.00,300.80 L226.50,300.92 L227.00,301.04 L227.50,301.15 L228.00,301.27 L228.50,301.39 L229.00,301.50 L229.50,301.62 L230.00,301.73 L230.50,301.83 L231.00,301.92 L231.50,302.00 L232.00,302.07 L232.50,302.13 L233.00,302.18 L233.50,302.22 L234.00,302.26 L234.50,302.30 L235.00,302.33 L235.50,302.36 L236.00,302.38 L236.50,302.41 L237.00,302.43 L237.50,302.46 L238.00,302.47 L238.50,302.46 L239.00,302.41 L239.50,302.34 L240.00,302.25 L240.50,302.14 L241.00,302.02 L241.50,301.91 L242.00,301.82 L242.50,301.75 L243.00,301.73 L243.50,301.80 L244.00,301.99 L244.50,302.21 L245.00,302.35 L245.50,302.36 L246.00,302.29 L246.50,302.17 L247.00,302.03 L247.50,301.87 L248.00,301.72 L248.50,301.57 L249.00,301.43 L249.50,301.30 L250.00,301.20 L250.50,301.12 L251.00,301.06 L251.50,301.01 L252.00,300.96 L252.50,300.92 L253.00,300.88 L253.50,300.84 L254.00,300.80 L254.50,300.76 L255.00,300.72 L255.50,300.68 L256.00,300.63 L256.50,300.58 L257.00,300.52 L257.50,300.46 L258.00,300.39 L258.50,300.32 L259.00,300.24 L259.50,300.16 L260.00,300.08 L260.50,299.99 L261.00,299.91 L261.50,299.83 L262.00,299.74 L262.50,299.66 L263.00,299.58 L263.50,299.49 L264.00,299.41 L264.50,299.33 L265.00,299.24 L265.50,299.16 L266.00,299.08 L266.50,298.99 L267.00,298.91 L267.50,298.83 L268.00,298.74 L268.50,298.66 L269.00,298.58 L269.50,298.49 L270.00,298.41 L270.50,298.33 L271.00,298.24 L271.50,298.16 L272.00,298.08 L272.50,297.99 L273.00,297.91 L273.50,297.83 L274.00,297.74 L274.50,297.66 L275.00,297.57 L275.50,297.48 L276.00,297.38 L276.50,297.26 L277.00,297.14 L277.50,297.00 L278.00,296.85 L278.50,296.69 L279.00,296.53 L279.50,296.36 L280.00,296.19 L280.50,296.02 L281.00,295.85 L281.50,295.68 L282.00,295.51 L282.50,295.36 L283.00,295.20 L283.50,295.06 L284.00,294.92 L284.50,294.78 L285.00,294.64 L285.50,294.51 L286.00,294.37 L286.50,294.24 L287.00,294.11 L287.50,293.97 L288.00,293.84 L288.50,293.71 L289.00,293.58 L289.50,293.45 L290.00,293.32 L290.50,293.18 L291.00,293.05 L291.50,292.92 L292.00,292.79 L292.50,292.66 L293.00,292.53 L293.50,292.41 L294.00,292.29 L294.50,292.18 L295.00,292.07 L295.50,291.96 L296.00,291.86 L296.50,291.77 L297.00,291.69 L297.50,291.62 L298.00,291.58 L298.50,291.59 L299.00,291.69 L299.50,291.86 L300.00,292.04 L300.50,292.17 L301.00,292.25 L301.50,292.30 L302.00,292.33 L302.50,292.38 L303.00,292.44 L303.50,292.54 L304.00,292.66 L304.50,292.82 L305.00,293.01 L305.50,293.27 L306.00,293.60 L306.50,294.00 L307.00,294.47 L307.50,294.96 L308.00,295.46 L308.50,295.96 L309.00,296.46 L309.50,296.96 L310.00,297.46 L310.50,297.96 L311.00,298.46 L311.50,298.96 L312.00,299.46 L312.50,299.96 L313.00,300.46 L313.50,300.96 L314.00,301.46 L314.50,301.99 L315.00,302.55 L315.50,303.18 L316.00,303.86 L316.50,304.57 L317.00,305.30 L317.50,306.02 L318.00,306.70 L318.50,307.32 L319.00,307.88 L319.50,308.41 L320.00,308.91 L320.50,309.41 L321.00,309.91 L321.50,310.41 L322.00,310.91 L322.50,311.41 L323.00,311.91 L323.50,312.41 L324.00,312.91 L324.50,313.41 L325.00,313.91 L325.50,314.41 L326.00,314.91 L326.50,315.40 L327.00,315.88 L327.50,316.33 L328.00,316.72 L328.50,317.08 L329.00,317.40 L329.50,317.70 L330.00,317.99 L330.50,318.28 L331.00,318.58 L331.50,318.87 L332.00,319.17 L332.50,319.47 L333.00,319.77 L333.50,320.07 L334.00,320.37 L334.50,320.67 L335.00,320.97 L335.50,321.27 L336.00,321.57 L336.50,321.87 L337.00,322.17 L337.50,322.47 L338.00,322.77 L338.50,323.07 L339.00,323.37 L339.50,323.66 L340.00,323.94 L340.50,324.21 L341.00,324.46 L341.50,324.72 L342.00,324.99 L342.50,325.28 L343.00,325.59 L343.50,325.92 L344.00,326.28 L344.50,326.65 L345.00,327.03 L345.50,327.40 L346.00,327.78 L346.50,328.15 L347.00,328.53 L347.50,328.90 L348.00,329.28 L348.50,329.65 L349.00,330.04 L349.50,330.46 L350.00,330.95 L350.50,331.51 L351.00,332.08 L351.50,332.60 L352.00,333.00 L352.50,333.25" fill="none" stroke="#ff0000" stroke-width="1.6" stroke-linejoin="round" stroke-linecap="square" clip-path="url(#c3)"/>
<rect x="54.5" y="287.95000000000005" width="298.0" height="51.27" fill="none" stroke="#000" stroke-width="1.1" stroke-linejoin="miter"/>
<line x1="54.50" y1="339.22" x2="54.50" y2="342.52" stroke="#000" stroke-width="1.1"/>
<text x="54.50" y="352.62" font-size="8.625" text-anchor="middle">0.0</text>
<line x1="114.10" y1="339.22" x2="114.10" y2="342.52" stroke="#000" stroke-width="1.1"/>
<text x="114.10" y="352.62" font-size="8.625" text-anchor="middle">0.2</text>
<line x1="173.70" y1="339.22" x2="173.70" y2="342.52" stroke="#000" stroke-width="1.1"/>
<text x="173.70" y="352.62" font-size="8.625" text-anchor="middle">0.4</text>
<line x1="233.30" y1="339.22" x2="233.30" y2="342.52" stroke="#000" stroke-width="1.1"/>
<text x="233.30" y="352.62" font-size="8.625" text-anchor="middle">0.6</text>
<line x1="292.90" y1="339.22" x2="292.90" y2="342.52" stroke="#000" stroke-width="1.1"/>
<text x="292.90" y="352.62" font-size="8.625" text-anchor="middle">0.8</text>
<line x1="352.50" y1="339.22" x2="352.50" y2="342.52" stroke="#000" stroke-width="1.1"/>
<text x="352.50" y="352.62" font-size="8.625" text-anchor="middle">1.0</text>
<line x1="51.20" y1="288.1" x2="54.5" y2="288.1" stroke="#000" stroke-width="1.1"/>
<text x="48.55" y="291.38" font-size="8.625" text-anchor="end">0.0010</text>
<line x1="51.20" y1="315.3" x2="54.5" y2="315.3" stroke="#000" stroke-width="1.1"/>
<text x="48.55" y="318.58" font-size="8.625" text-anchor="end">0.0005</text>
<text x="203.50" y="282.70" font-size="10.45" text-anchor="middle">Index 14: lat.dis of the vehicle front part</text>
<text transform="translate(12.7,313.89) rotate(-90)" x="0" y="0" font-size="10.45" text-anchor="middle">dis. (m)</text>
<clipPath id="c4"><rect x="54.5" y="377.40000000000003" width="298.0" height="51.27"/></clipPath>
<path d="M54.50,390.12 L55.00,390.16 L55.50,390.20 L56.00,390.23 L56.50,390.26 L57.00,390.28 L57.50,390.27 L58.00,390.23 L58.50,390.14 L59.00,390.01 L59.50,389.86 L60.00,389.71 L60.50,389.58 L61.00,389.46 L61.50,389.36 L62.00,389.27 L62.50,389.18 L63.00,389.11 L63.50,389.06 L64.00,389.02 L64.50,389.00 L65.00,388.99 L65.50,388.99 L66.00,388.99 L66.50,388.99 L67.00,389.00 L67.50,389.00 L68.00,389.00 L68.50,388.98 L69.00,388.95 L69.50,388.91 L70.00,388.86 L70.50,388.81 L71.00,388.75 L71.50,388.70 L72.00,388.65 L72.50,388.61 L73.00,388.56 L73.50,388.49 L74.00,388.37 L74.50,388.13 L75.00,387.77 L75.50,387.31 L76.00,386.83 L76.50,386.33 L77.00,385.83 L77.50,385.33 L78.00,384.83 L78.50,384.34 L79.00,383.87 L79.50,383.45 L80.00,383.11 L80.50,382.83 L81.00,382.58 L81.50,382.35 L82.00,382.13 L82.50,381.93 L83.00,381.77 L83.50,381.64 L84.00,381.53 L84.50,381.43 L85.00,381.33 L85.50,381.23 L86.00,381.13 L86.50,381.03 L87.00,380.93 L87.50,380.83 L88.00,380.73 L88.50,380.63 L89.00,380.54 L89.50,380.48 L90.00,380.48 L90.50,380.55 L91.00,380.68 L91.50,380.85 L92.00,381.04 L92.50,381.23 L93.00,381.34 L93.50,381.31 L94.00,381.17 L94.50,380.95 L95.00,380.71 L95.50,380.46 L96.00,380.21 L96.50,379.98 L97.00,379.79 L97.50,379.71 L98.00,379.78 L98.50,380.02 L99.00,380.39 L99.50,380.84 L100.00,381.33 L100.50,381.83 L101.00,382.33 L101.50,382.82 L102.00,383.29 L102.50,383.72 L103.00,384.07 L103.50,384.34 L104.00,384.53 L104.50,384.67 L105.00,384.78 L105.50,384.88 L106.00,384.98 L106.50,385.08 L107.00,385.18 L107.50,385.30 L108.00,385.42 L108.50,385.57 L109.00,385.75 L109.50,385.97 L110.00,386.23 L110.50,386.52 L111.00,386.84 L111.50,387.17 L112.00,387.52 L112.50,387.87 L113.00,388.21 L113.50,388.55 L114.00,388.85 L114.50,389.13 L115.00,389.36 L115.50,389.55 L116.00,389.70 L116.50,389.82 L117.00,389.92 L117.50,390.00 L118.00,390.07 L118.50,390.14 L119.00,390.19 L119.50,390.22 L120.00,390.22 L120.50,390.19 L121.00,390.15 L121.50,390.08 L122.00,390.00 L122.50,389.90 L123.00,389.80 L123.50,389.71 L124.00,389.64 L124.50,389.60 L125.00,389.59 L125.50,389.60 L126.00,389.63 L126.50,389.67 L127.00,389.72 L127.50,389.77 L128.00,389.79 L128.50,389.78 L129.00,389.74 L129.50,389.69 L130.00,389.64 L130.50,389.60 L131.00,389.58 L131.50,389.58 L132.00,389.64 L132.50,389.76 L133.00,389.95 L133.50,390.21 L134.00,390.50 L134.50,390.83 L135.00,391.17 L135.50,391.52 L136.00,391.87 L136.50,392.19 L137.00,392.49 L137.50,392.75 L138.00,392.97 L138.50,393.13 L139.00,393.22 L139.50,393.21 L140.00,393.11 L140.50,392.92 L141.00,392.67 L141.50,392.38 L142.00,392.08 L142.50,391.78 L143.00,391.51 L143.50,391.25 L144.00,391.00 L144.50,390.78 L145.00,390.61 L145.50,390.50 L146.00,390.45 L146.50,390.46 L147.00,390.51 L147.50,390.61 L148.00,390.79 L148.50,391.08 L149.00,391.47 L149.50,391.97 L150.00,392.54 L150.50,393.18 L151.00,393.87 L151.50,394.59 L152.00,395.34 L152.50,396.09 L153.00,396.82 L153.50,397.51 L154.00,398.15 L154.50,398.73 L155.00,399.23 L155.50,399.62 L156.00,399.91 L156.50,400.10 L157.00,400.20 L157.50,400.25 L158.00,400.26 L158.50,400.27 L159.00,400.27 L159.50,400.29 L160.00,400.32 L160.50,400.36 L161.00,400.43 L161.50,400.54 L162.00,400.72 L162.50,400.98 L163.00,401.34 L163.50,401.79 L164.00,402.33 L164.50,402.92 L165.00,403.52 L165.50,404.11 L166.00,404.66 L166.50,405.18 L167.00,405.68 L167.50,406.14 L168.00,406.55 L168.50,406.89 L169.00,407.14 L169.50,407.28 L170.00,407.31 L170.50,407.29 L171.00,407.24 L171.50,407.19 L172.00,407.13 L172.50,407.07 L173.00,407.02 L173.50,406.98 L174.00,406.99 L174.50,407.04 L175.00,407.13 L175.50,407.24 L176.00,407.35 L176.50,407.46 L177.00,407.56 L177.50,407.66 L178.00,407.74 L178.50,407.78 L179.00,407.77 L179.50,407.71 L180.00,407.60 L180.50,407.45 L181.00,407.27 L181.50,407.06 L182.00,406.88 L182.50,406.73 L183.00,406.67 L183.50,406.70 L184.00,406.86 L184.50,407.14 L185.00,407.47 L185.50,407.79 L186.00,408.08 L186.50,408.34 L187.00,408.58 L187.50,408.81 L188.00,409.02 L188.50,409.20 L189.00,409.33 L189.50,409.39 L190.00,409.36 L190.50,409.26 L191.00,409.09 L191.50,408.89 L192.00,408.67 L192.50,408.42 L193.00,408.17 L193.50,407.93 L194.00,407.73 L194.50,407.61 L195.00,407.63 L195.50,407.83 L196.00,408.14 L196.50,408.51 L197.00,408.90 L197.50,409.30 L198.00,409.70 L198.50,410.10 L199.00,410.48 L199.50,410.82 L200.00,411.08 L200.50,411.24 L201.00,411.26 L201.50,411.17 L202.00,411.00 L202.50,410.80 L203.00,410.58 L203.50,410.35 L204.00,410.12 L204.50,409.87 L205.00,409.62 L205.50,409.37 L206.00,409.14 L206.50,408.96 L207.00,408.85 L207.50,408.85 L208.00,408.99 L208.50,409.24 L209.00,409.56 L209.50,409.90 L210.00,410.25 L210.50,410.60 L211.00,410.95 L211.50,411.30 L212.00,411.65 L212.50,411.97 L213.00,412.28 L213.50,412.54 L214.00,412.77 L214.50,412.98 L215.00,413.17 L215.50,413.34 L216.00,413.48 L216.50,413.58 L217.00,413.65 L217.50,413.68 L218.00,413.68 L218.50,413.64 L219.00,413.57 L219.50,413.49 L220.00,413.39 L220.50,413.27 L221.00,413.14 L221.50,413.00 L222.00,412.85 L222.50,412.70 L223.00,412.58 L223.50,412.49 L224.00,412.43 L224.50,412.40 L225.00,412.40 L225.50,412.43 L226.00,412.47 L226.50,412.52 L227.00,412.57 L227.50,412.60 L228.00,412.59 L228.50,412.52 L229.00,412.37 L229.50,412.13 L230.00,411.82 L230.50,411.47 L231.00,411.09 L231.50,410.70 L232.00,410.30 L232.50,409.90 L233.00,409.51 L233.50,409.14 L234.00,408.82 L234.50,408.61 L235.00,408.56 L235.50,408.69 L236.00,408.96 L236.50,409.30 L237.00,409.69 L237.50,410.09 L238.00,410.48 L238.50,410.80 L239.00,411.00 L239.50,411.03 L240.00,410.87 L240.50,410.51 L241.00,410.01 L241.50,409.41 L242.00,408.76 L242.50,408.07 L243.00,407.35 L243.50,406.61 L244.00,405.86 L244.50,405.13 L245.00,404.47 L245.50,403.92 L246.00,403.53 L246.50,403.33 L247.00,403.32 L247.50,403.45 L248.00,403.68 L248.50,403.95 L249.00,404.27 L249.50,404.60 L250.00,404.96 L250.50,405.30 L251.00,405.62 L251.50,405.89 L252.00,406.09 L252.50,406.22 L253.00,406.27 L253.50,406.25 L254.00,406.18 L254.50,406.08 L255.00,405.96 L255.50,405.83 L256.00,405.69 L256.50,405.54 L257.00,405.38 L257.50,405.20 L258.00,404.99 L258.50,404.75 L259.00,404.47 L259.50,404.16 L260.00,403.81 L260.50,403.42 L261.00,403.00 L261.50,402.55 L262.00,402.07 L262.50,401.58 L263.00,401.08 L263.50,400.59 L264.00,400.14 L264.50,399.72 L265.00,399.32 L265.50,398.96 L266.00,398.63 L266.50,398.35 L267.00,398.15 L267.50,398.05 L268.00,398.04 L268.50,398.09 L269.00,398.19 L269.50,398.31 L270.00,398.46 L270.50,398.63 L271.00,398.79 L271.50,398.90 L272.00,398.88 L272.50,398.70 L273.00,398.40 L273.50,398.01 L274.00,397.59 L274.50,397.18 L275.00,396.76 L275.50,396.35 L276.00,395.93 L276.50,395.52 L277.00,395.11 L277.50,394.70 L278.00,394.29 L278.50,393.90 L279.00,393.54 L279.50,393.19 L280.00,392.87 L280.50,392.57 L281.00,392.30 L281.50,392.05 L282.00,391.83 L282.50,391.64 L283.00,391.48 L283.50,391.33 L284.00,391.17 L284.50,390.99 L285.00,390.76 L285.50,390.51 L286.00,390.27 L286.50,390.04 L287.00,389.86 L287.50,389.74 L288.00,389.70 L288.50,389.77 L289.00,389.96 L289.50,390.26 L290.00,390.64 L290.50,391.08 L291.00,391.53 L291.50,391.95 L292.00,392.31 L292.50,392.61 L293.00,392.85 L293.50,393.04 L294.00,393.17 L294.50,393.25 L295.00,393.29 L295.50,393.35 L296.00,393.46 L296.50,393.61 L297.00,393.80 L297.50,394.02 L298.00,394.28 L298.50,394.60 L299.00,394.97 L299.50,395.41 L300.00,395.92 L300.50,396.52 L301.00,397.21 L301.50,397.99 L302.00,398.87 L302.50,399.82 L303.00,400.81 L303.50,401.81 L304.00,402.81 L304.50,403.81 L305.00,404.81 L305.50,405.81 L306.00,406.81 L306.50,407.81 L307.00,408.81 L307.50,409.81 L308.00,410.79 L308.50,411.75 L309.00,412.63 L309.50,413.41 L310.00,414.08 L310.50,414.67 L311.00,415.17 L311.50,415.60 L312.00,415.97 L312.50,416.30 L313.00,416.59 L313.50,416.85 L314.00,417.10 L314.50,417.32 L315.00,417.52 L315.50,417.69 L316.00,417.84 L316.50,417.95 L317.00,418.02 L317.50,418.06 L318.00,418.06 L318.50,418.03 L319.00,417.98 L319.50,417.90 L320.00,417.81 L320.50,417.69 L321.00,417.55 L321.50,417.39 L322.00,417.21 L322.50,416.99 L323.00,416.73 L323.50,416.45 L324.00,416.15 L324.50,415.85 L325.00,415.55 L325.50,415.25 L326.00,414.95 L326.50,414.65 L327.00,414.36 L327.50,414.07 L328.00,413.80 L328.50,413.56 L329.00,413.38 L329.50,413.29 L330.00,413.36 L330.50,413.58 L331.00,413.91 L331.50,414.32 L332.00,414.74 L332.50,415.13 L333.00,415.45 L333.50,415.69 L334.00,415.82 L334.50,415.84 L335.00,415.75 L335.50,415.58 L336.00,415.36 L336.50,415.10 L337.00,414.82 L337.50,414.52 L338.00,414.22 L338.50,413.96 L339.00,413.76 L339.50,413.64 L340.00,413.60 L340.50,413.64 L341.00,413.76 L341.50,413.99 L342.00,414.36 L342.50,414.89 L343.00,415.53 L343.50,416.24 L344.00,416.97 L344.50,417.72 L345.00,418.47 L345.50,419.22 L346.00,419.97 L346.50,420.72 L347.00,421.47 L347.50,422.21 L348.00,422.95 L348.50,423.66 L349.00,424.34 L349.50,424.97 L350.00,425.55 L350.50,426.06 L351.00,426.48 L351.50,426.80 L352.00,427.02 L352.50,427.14" fill="none" stroke="#ff0000" stroke-width="1.6" stroke-linejoin="round" stroke-linecap="square" clip-path="url(#c4)"/>
<rect x="54.5" y="377.40000000000003" width="298.0" height="51.27" fill="none" stroke="#000" stroke-width="1.1" stroke-linejoin="miter"/>
<line x1="54.50" y1="428.67" x2="54.50" y2="431.97" stroke="#000" stroke-width="1.1"/>
<text x="54.50" y="442.07" font-size="8.625" text-anchor="middle">0.0</text>
<line x1="114.10" y1="428.67" x2="114.10" y2="431.97" stroke="#000" stroke-width="1.1"/>
<text x="114.10" y="442.07" font-size="8.625" text-anchor="middle">0.2</text>
<line x1="173.70" y1="428.67" x2="173.70" y2="431.97" stroke="#000" stroke-width="1.1"/>
<text x="173.70" y="442.07" font-size="8.625" text-anchor="middle">0.4</text>
<line x1="233.30" y1="428.67" x2="233.30" y2="431.97" stroke="#000" stroke-width="1.1"/>
<text x="233.30" y="442.07" font-size="8.625" text-anchor="middle">0.6</text>
<line x1="292.90" y1="428.67" x2="292.90" y2="431.97" stroke="#000" stroke-width="1.1"/>
<text x="292.90" y="442.07" font-size="8.625" text-anchor="middle">0.8</text>
<line x1="352.50" y1="428.67" x2="352.50" y2="431.97" stroke="#000" stroke-width="1.1"/>
<text x="352.50" y="442.07" font-size="8.625" text-anchor="middle">1.0</text>
<line x1="51.20" y1="397.4" x2="54.5" y2="397.4" stroke="#000" stroke-width="1.1"/>
<text x="48.55" y="400.68" font-size="8.625" text-anchor="end">0.0005</text>
<line x1="51.20" y1="418.4" x2="54.5" y2="418.4" stroke="#000" stroke-width="1.1"/>
<text x="48.55" y="421.68" font-size="8.625" text-anchor="end">0.0000</text>
<text x="203.50" y="372.10" font-size="10.45" text-anchor="middle">Index 17: lat.dis of the bogie 1 in pos.1</text>
<text transform="translate(12.7,403.34) rotate(-90)" x="0" y="0" font-size="10.45" text-anchor="middle">dis. (m)</text>
<clipPath id="c5"><rect x="54.5" y="466.85" width="298.0" height="51.27"/></clipPath>
<path d="M54.50,482.16 L55.00,482.20 L55.50,482.26 L56.00,482.35 L56.50,482.49 L57.00,482.65 L57.50,482.80 L58.00,482.89 L58.50,482.90 L59.00,482.87 L59.50,482.83 L60.00,482.78 L60.50,482.73 L61.00,482.68 L61.50,482.63 L62.00,482.59 L62.50,482.58 L63.00,482.61 L63.50,482.71 L64.00,482.83 L64.50,482.98 L65.00,483.13 L65.50,483.28 L66.00,483.43 L66.50,483.56 L67.00,483.69 L67.50,483.80 L68.00,483.89 L68.50,483.97 L69.00,484.02 L69.50,484.04 L70.00,484.03 L70.50,484.01 L71.00,483.96 L71.50,483.88 L72.00,483.73 L72.50,483.47 L73.00,483.05 L73.50,482.49 L74.00,481.84 L74.50,481.19 L75.00,480.58 L75.50,480.02 L76.00,479.51 L76.50,479.02 L77.00,478.57 L77.50,478.14 L78.00,477.73 L78.50,477.34 L79.00,476.95 L79.50,476.58 L80.00,476.22 L80.50,475.87 L81.00,475.55 L81.50,475.27 L82.00,475.03 L82.50,474.84 L83.00,474.68 L83.50,474.56 L84.00,474.45 L84.50,474.35 L85.00,474.25 L85.50,474.15 L86.00,474.05 L86.50,473.95 L87.00,473.85 L87.50,473.73 L88.00,473.58 L88.50,473.39 L89.00,473.17 L89.50,472.92 L90.00,472.64 L90.50,472.35 L91.00,472.05 L91.50,471.72 L92.00,471.39 L92.50,471.04 L93.00,470.69 L93.50,470.36 L94.00,470.07 L94.50,469.82 L95.00,469.63 L95.50,469.47 L96.00,469.35 L96.50,469.26 L97.00,469.21 L97.50,469.19 L98.00,469.21 L98.50,469.24 L99.00,469.29 L99.50,469.34 L100.00,469.37 L100.50,469.40 L101.00,469.43 L101.50,469.51 L102.00,469.67 L102.50,469.95 L103.00,470.31 L103.50,470.73 L104.00,471.15 L104.50,471.57 L105.00,471.97 L105.50,472.37 L106.00,472.74 L106.50,473.05 L107.00,473.28 L107.50,473.43 L108.00,473.52 L108.50,473.58 L109.00,473.63 L109.50,473.68 L110.00,473.73 L110.50,473.81 L111.00,473.90 L111.50,474.04 L112.00,474.22 L112.50,474.46 L113.00,474.76 L113.50,475.11 L114.00,475.46 L114.50,475.81 L115.00,476.13 L115.50,476.45 L116.00,476.74 L116.50,477.00 L117.00,477.22 L117.50,477.37 L118.00,477.46 L118.50,477.49 L119.00,477.45 L119.50,477.37 L120.00,477.26 L120.50,477.19 L121.00,477.17 L121.50,477.21 L122.00,477.30 L122.50,477.43 L123.00,477.59 L123.50,477.77 L124.00,477.98 L124.50,478.17 L125.00,478.34 L125.50,478.48 L126.00,478.60 L126.50,478.69 L127.00,478.76 L127.50,478.81 L128.00,478.85 L128.50,478.88 L129.00,478.91 L129.50,478.95 L130.00,478.99 L130.50,479.04 L131.00,479.09 L131.50,479.13 L132.00,479.17 L132.50,479.17 L133.00,479.15 L133.50,479.09 L134.00,479.02 L134.50,478.92 L135.00,478.80 L135.50,478.68 L136.00,478.63 L136.50,478.64 L137.00,478.71 L137.50,478.80 L138.00,478.90 L138.50,479.01 L139.00,479.11 L139.50,479.22 L140.00,479.31 L140.50,479.38 L141.00,479.41 L141.50,479.43 L142.00,479.42 L142.50,479.41 L143.00,479.41 L143.50,479.41 L144.00,479.41 L144.50,479.41 L145.00,479.43 L145.50,479.49 L146.00,479.63 L146.50,479.90 L147.00,480.29 L147.50,480.75 L148.00,481.24 L148.50,481.74 L149.00,482.24 L149.50,482.74 L150.00,483.24 L150.50,483.73 L151.00,484.19 L151.50,484.60 L152.00,484.93 L152.50,485.20 L153.00,485.43 L153.50,485.64 L154.00,485.82 L154.50,485.96 L155.00,486.03 L155.50,486.04 L156.00,486.01 L156.50,485.96 L157.00,485.91 L157.50,485.88 L158.00,485.86 L158.50,485.86 L159.00,485.89 L159.50,485.97 L160.00,486.12 L160.50,486.36 L161.00,486.66 L161.50,487.02 L162.00,487.42 L162.50,487.88 L163.00,488.43 L163.50,489.07 L164.00,489.78 L164.50,490.52 L165.00,491.27 L165.50,492.02 L166.00,492.77 L166.50,493.52 L167.00,494.26 L167.50,495.00 L168.00,495.69 L168.50,496.33 L169.00,496.87 L169.50,497.31 L170.00,497.63 L170.50,497.85 L171.00,497.96 L171.50,497.99 L172.00,497.94 L172.50,497.86 L173.00,497.76 L173.50,497.66 L174.00,497.56 L174.50,497.46 L175.00,497.36 L175.50,497.27 L176.00,497.18 L176.50,497.10 L177.00,497.05 L177.50,497.00 L178.00,496.94 L178.50,496.86 L179.00,496.77 L179.50,496.67 L180.00,496.60 L180.50,496.58 L181.00,496.61 L181.50,496.66 L182.00,496.70 L182.50,496.70 L183.00,496.66 L183.50,496.62 L184.00,496.57 L184.50,496.52 L185.00,496.47 L185.50,496.42 L186.00,496.38 L186.50,496.37 L187.00,496.42 L187.50,496.54 L188.00,496.72 L188.50,496.94 L189.00,497.18 L189.50,497.43 L190.00,497.68 L190.50,497.89 L191.00,498.05 L191.50,498.14 L192.00,498.18 L192.50,498.18 L193.00,498.13 L193.50,498.04 L194.00,497.93 L194.50,497.86 L195.00,497.85 L195.50,497.91 L196.00,498.04 L196.50,498.24 L197.00,498.49 L197.50,498.77 L198.00,499.07 L198.50,499.37 L199.00,499.67 L199.50,499.97 L200.00,500.26 L200.50,500.56 L201.00,500.83 L201.50,501.05 L202.00,501.19 L202.50,501.23 L203.00,501.19 L203.50,501.08 L204.00,500.90 L204.50,500.67 L205.00,500.38 L205.50,500.07 L206.00,499.79 L206.50,499.54 L207.00,499.34 L207.50,499.19 L208.00,499.11 L208.50,499.10 L209.00,499.17 L209.50,499.31 L210.00,499.51 L210.50,499.77 L211.00,500.05 L211.50,500.35 L212.00,500.65 L212.50,500.95 L213.00,501.25 L213.50,501.55 L214.00,501.85 L214.50,502.14 L215.00,502.42 L215.50,502.66 L216.00,502.84 L216.50,502.93 L217.00,502.93 L217.50,502.87 L218.00,502.76 L218.50,502.63 L219.00,502.49 L219.50,502.33 L220.00,502.18 L220.50,502.06 L221.00,501.98 L221.50,501.97 L222.00,502.01 L222.50,502.09 L223.00,502.21 L223.50,502.34 L224.00,502.49 L224.50,502.65 L225.00,502.82 L225.50,503.01 L226.00,503.20 L226.50,503.40 L227.00,503.59 L227.50,503.76 L228.00,503.89 L228.50,503.97 L229.00,503.99 L229.50,503.92 L230.00,503.75 L230.50,503.49 L231.00,503.15 L231.50,502.74 L232.00,502.30 L232.50,501.85 L233.00,501.42 L233.50,501.01 L234.00,500.64 L234.50,500.28 L235.00,499.94 L235.50,499.61 L236.00,499.30 L236.50,499.00 L237.00,498.70 L237.50,498.42 L238.00,498.14 L238.50,497.88 L239.00,497.64 L239.50,497.42 L240.00,497.24 L240.50,497.08 L241.00,496.93 L241.50,496.78 L242.00,496.63 L242.50,496.45 L243.00,496.25 L243.50,496.00 L244.00,495.70 L244.50,495.34 L245.00,494.94 L245.50,494.53 L246.00,494.13 L246.50,493.76 L247.00,493.40 L247.50,493.08 L248.00,492.82 L248.50,492.68 L249.00,492.70 L249.50,492.89 L250.00,493.24 L250.50,493.68 L251.00,494.17 L251.50,494.66 L252.00,495.16 L252.50,495.66 L253.00,496.16 L253.50,496.65 L254.00,497.09 L254.50,497.41 L255.00,497.53 L255.50,497.46 L256.00,497.25 L256.50,496.94 L257.00,496.57 L257.50,496.13 L258.00,495.65 L258.50,495.16 L259.00,494.66 L259.50,494.16 L260.00,493.66 L260.50,493.16 L261.00,492.67 L261.50,492.23 L262.00,491.86 L262.50,491.61 L263.00,491.45 L263.50,491.33 L264.00,491.23 L264.50,491.15 L265.00,491.11 L265.50,491.13 L266.00,491.21 L266.50,491.34 L267.00,491.49 L267.50,491.64 L268.00,491.77 L268.50,491.89 L269.00,491.99 L269.50,492.07 L270.00,492.12 L270.50,492.12 L271.00,492.04 L271.50,491.88 L272.00,491.63 L272.50,491.29 L273.00,490.90 L273.50,490.50 L274.00,490.14 L274.50,489.84 L275.00,489.57 L275.50,489.31 L276.00,489.02 L276.50,488.71 L277.00,488.36 L277.50,487.99 L278.00,487.59 L278.50,487.13 L279.00,486.64 L279.50,486.14 L280.00,485.68 L280.50,485.29 L281.00,485.00 L281.50,484.80 L282.00,484.70 L282.50,484.67 L283.00,484.69 L283.50,484.73 L284.00,484.80 L284.50,484.89 L285.00,485.01 L285.50,485.12 L286.00,485.18 L286.50,485.15 L287.00,485.00 L287.50,484.77 L288.00,484.51 L288.50,484.25 L289.00,484.03 L289.50,483.82 L290.00,483.62 L290.50,483.42 L291.00,483.24 L291.50,483.06 L292.00,482.92 L292.50,482.82 L293.00,482.77 L293.50,482.78 L294.00,482.83 L294.50,482.91 L295.00,483.00 L295.50,483.10 L296.00,483.20 L296.50,483.30 L297.00,483.40 L297.50,483.50 L298.00,483.60 L298.50,483.70 L299.00,483.81 L299.50,483.93 L300.00,484.07 L300.50,484.24 L301.00,484.47 L301.50,484.82 L302.00,485.31 L302.50,485.95 L303.00,486.74 L303.50,487.62 L304.00,488.57 L304.50,489.57 L305.00,490.63 L305.50,491.73 L306.00,492.87 L306.50,494.02 L307.00,495.16 L307.50,496.28 L308.00,497.35 L308.50,498.37 L309.00,499.31 L309.50,500.16 L310.00,500.93 L310.50,501.64 L311.00,502.33 L311.50,503.00 L312.00,503.67 L312.50,504.32 L313.00,504.97 L313.50,505.59 L314.00,506.17 L314.50,506.71 L315.00,507.20 L315.50,507.63 L316.00,508.03 L316.50,508.39 L317.00,508.74 L317.50,509.09 L318.00,509.47 L318.50,509.86 L319.00,510.26 L319.50,510.65 L320.00,511.02 L320.50,511.35 L321.00,511.62 L321.50,511.81 L322.00,511.91 L322.50,511.90 L323.00,511.80 L323.50,511.60 L324.00,511.35 L324.50,511.07 L325.00,510.75 L325.50,510.38 L326.00,509.96 L326.50,509.50 L327.00,509.01 L327.50,508.51 L328.00,508.01 L328.50,507.51 L329.00,507.01 L329.50,506.51 L330.00,506.01 L330.50,505.51 L331.00,505.01 L331.50,504.51 L332.00,504.02 L332.50,503.54 L333.00,503.08 L333.50,502.67 L334.00,502.30 L334.50,501.98 L335.00,501.70 L335.50,501.48 L336.00,501.30 L336.50,501.16 L337.00,501.06 L337.50,500.98 L338.00,500.95 L338.50,500.94 L339.00,500.99 L339.50,501.09 L340.00,501.25 L340.50,501.46 L341.00,501.73 L341.50,502.07 L342.00,502.56 L342.50,503.22 L343.00,504.06 L343.50,505.00 L344.00,505.99 L344.50,506.99 L345.00,507.99 L345.50,508.99 L346.00,509.99 L346.50,510.98 L347.00,511.94 L347.50,512.85 L348.00,513.65 L348.50,514.35 L349.00,514.94 L349.50,515.41 L350.00,515.76 L350.50,516.02 L351.00,516.19 L351.50,516.30 L352.00,516.35 L352.50,516.37" fill="none" stroke="#ff0000" stroke-width="1.6" stroke-linejoin="round" stroke-linecap="square" clip-path="url(#c5)"/>
<rect x="54.5" y="466.85" width="298.0" height="51.27" fill="none" stroke="#000" stroke-width="1.1" stroke-linejoin="miter"/>
<line x1="54.50" y1="518.12" x2="54.50" y2="521.42" stroke="#000" stroke-width="1.1"/>
<text x="54.50" y="531.52" font-size="8.625" text-anchor="middle">0.0</text>
<line x1="114.10" y1="518.12" x2="114.10" y2="521.42" stroke="#000" stroke-width="1.1"/>
<text x="114.10" y="531.52" font-size="8.625" text-anchor="middle">0.2</text>
<line x1="173.70" y1="518.12" x2="173.70" y2="521.42" stroke="#000" stroke-width="1.1"/>
<text x="173.70" y="531.52" font-size="8.625" text-anchor="middle">0.4</text>
<line x1="233.30" y1="518.12" x2="233.30" y2="521.42" stroke="#000" stroke-width="1.1"/>
<text x="233.30" y="531.52" font-size="8.625" text-anchor="middle">0.6</text>
<line x1="292.90" y1="518.12" x2="292.90" y2="521.42" stroke="#000" stroke-width="1.1"/>
<text x="292.90" y="531.52" font-size="8.625" text-anchor="middle">0.8</text>
<line x1="352.50" y1="518.12" x2="352.50" y2="521.42" stroke="#000" stroke-width="1.1"/>
<text x="352.50" y="531.52" font-size="8.625" text-anchor="middle">1.0</text>
<line x1="51.20" y1="488.1" x2="54.5" y2="488.1" stroke="#000" stroke-width="1.1"/>
<text x="48.55" y="491.38" font-size="8.625" text-anchor="end">0.0005</text>
<line x1="51.20" y1="510.1" x2="54.5" y2="510.1" stroke="#000" stroke-width="1.1"/>
<text x="48.55" y="513.38" font-size="8.625" text-anchor="end">0.0000</text>
<text x="203.50" y="461.80" font-size="10.45" text-anchor="middle">Index 18: lat.dis of the bogie 1 in pos.4</text>
<text transform="translate(12.7,492.79) rotate(-90)" x="0" y="0" font-size="10.45" text-anchor="middle">dis. (m)</text>
<text x="203.50" y="543.6" font-size="10.45" text-anchor="middle">Time (<tspan font-style="oblique">s</tspan>)</text>
</g></svg>
</body></html>
